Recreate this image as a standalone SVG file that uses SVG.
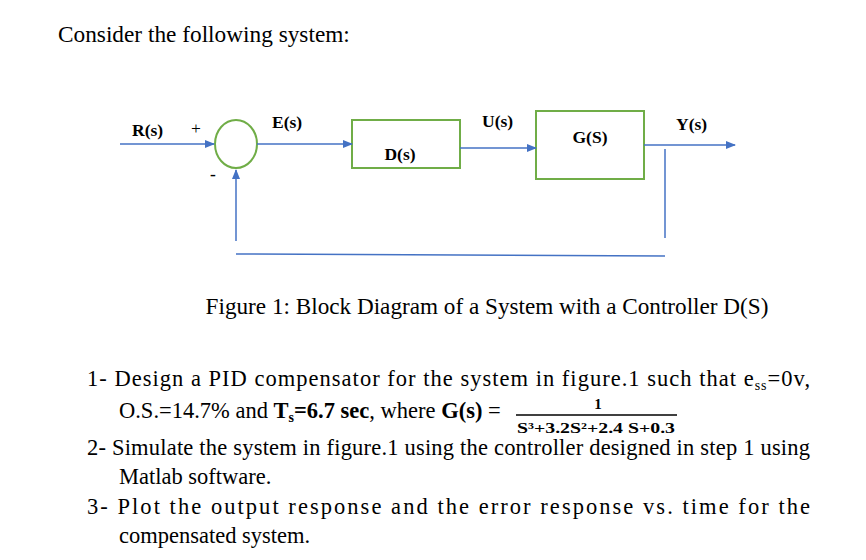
<svg xmlns="http://www.w3.org/2000/svg" width="866" height="560" viewBox="0 0 866 560">
<style>
.t{font-family:"Liberation Serif",serif;fill:#000}
.b{fill:none;stroke:#70ad47;stroke-width:2}
.c{stroke:#4472c4;stroke-width:1.5;fill:none}
.lb{font-family:"Liberation Serif",serif;font-weight:bold;font-size:17.5px}
</style>
<defs><marker id="a" markerWidth="10" markerHeight="8" refX="9" refY="4" orient="auto" markerUnits="userSpaceOnUse"><path d="M0,0L10,4L0,8z" fill="#4472c4"/></marker></defs>
<rect width="866" height="560" fill="#fff"/>
<text class="t" x="58" y="42" font-size="23.3">Consider the following system:</text>
<g id="sum"><ellipse cx="236" cy="144" rx="21" ry="24" class="b"/></g>
<g id="D"><rect x="352" y="120" width="108" height="48" class="b"/><text class="lb" x="400" y="160" text-anchor="middle">D(s)</text></g>
<g id="G"><rect x="536" y="111" width="108" height="68" class="b"/><text class="lb" x="590" y="143" text-anchor="middle">G(S)</text></g>
<g id="connectors">
<line x1="120" y1="144" x2="214" y2="144" class="c" marker-end="url(#a)"/>
<line x1="257" y1="144" x2="352" y2="144" class="c" marker-end="url(#a)"/>
<line x1="460" y1="148" x2="536" y2="148" class="c" marker-end="url(#a)"/>
<line x1="644" y1="145" x2="735" y2="145" class="c" marker-end="url(#a)"/>
<line x1="665" y1="149" x2="665" y2="238" class="c"/>
<line x1="236" y1="254" x2="665" y2="256" class="c"/>
<line x1="236" y1="241" x2="236" y2="170" class="c" marker-end="url(#a)"/>
</g>
<g class="lb">
<text x="132" y="136">R(s)</text>
<text x="191" y="134" font-weight="normal">+</text>
<text x="210" y="180" font-weight="bold">-</text>
<text x="272" y="128">E(s)</text>
<text x="482" y="127">U(s)</text>
<text x="676" y="130">Y(s)</text>
</g>
<text class="t" x="487" y="314" font-size="23.2" text-anchor="middle">Figure 1: Block Diagram of a System with a Controller D(S)</text>
<g class="t" font-size="22.5">
<text x="87" y="386" textLength="723" lengthAdjust="spacing">1- Design a PID compensator for the system in figure.1 such that e<tspan font-size="14" dy="4">ss</tspan><tspan dy="-4">=0v,</tspan></text>
<text x="119" y="418">O.S.=14.7% and <tspan font-weight="bold">T</tspan><tspan font-size="14" font-weight="bold" dy="4">s</tspan><tspan dy="-4" font-weight="bold">=6.7 sec</tspan>, where <tspan font-weight="bold">G(s)</tspan> =</text>
<text x="598" y="409" font-size="15" font-weight="bold" text-anchor="middle">1</text>
<line x1="516" y1="415" x2="677" y2="415" stroke="#000" stroke-width="1.3"/>
<text x="596" y="433" font-size="15" font-weight="bold" text-anchor="middle" textLength="158" lengthAdjust="spacingAndGlyphs">S³+3.2S²+2.4 S+0.3</text>
<text x="87" y="455" textLength="723" lengthAdjust="spacing">2- Simulate the system in figure.1 using the controller designed in step 1 using</text>
<text x="119" y="484">Matlab software.</text>
<text x="87" y="514" textLength="723" lengthAdjust="spacing">3- Plot the output response and the error response vs. time for the</text>
<text x="119" y="543">compensated system.</text>
</g>
</svg>
